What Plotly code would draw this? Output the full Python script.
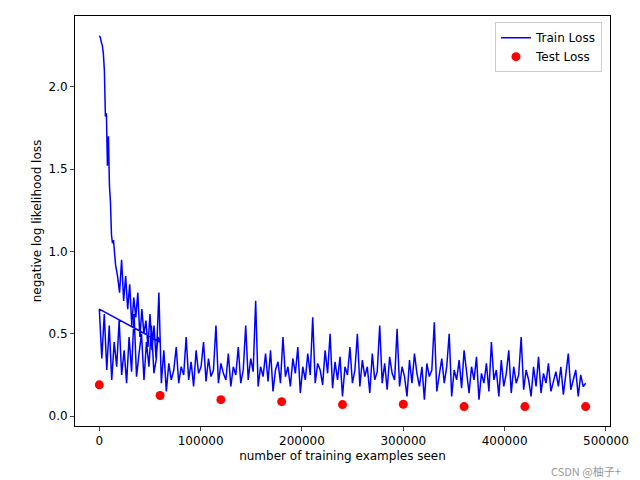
import plotly.graph_objects as go

# first pass through the data (loss drops fast)
first_x = [0, 1000, 2000, 3000, 4000, 5000, 6000, 7000, 8000, 9000, 10000, 11000, 12000, 13000,
           14000, 15000, 16000, 18000, 20000, 22000, 24000, 26000, 28000, 30000, 32000, 34000,
           36000, 38000, 40000, 42000, 44000, 46000, 48000, 50000, 52000, 54000, 56000, 58000, 60000]
first_y = [2.31, 2.30, 2.27, 2.25, 2.20, 2.10, 1.82, 1.84, 1.52, 1.70, 1.40, 1.30, 1.10, 1.05,
           1.07, 0.98, 0.92, 0.85, 0.75, 0.95, 0.70, 0.85, 0.65, 0.80, 0.55, 0.72, 0.60, 0.75,
           0.48, 0.65, 0.50, 0.58, 0.42, 0.62, 0.40, 0.55, 0.35, 0.48, 0.45]

# later logging, counter restarted at 0
later_y = [0.65, 0.35, 0.62, 0.28, 0.55, 0.22, 0.45, 0.30, 0.58, 0.25, 0.40, 0.20, 0.48, 0.27,
           0.62, 0.24, 0.38, 0.50, 0.22, 0.45, 0.30, 0.55, 0.26, 0.35, 0.75, 0.20, 0.40, 0.15,
           0.32, 0.22, 0.28, 0.42, 0.20, 0.30, 0.25, 0.48, 0.22, 0.33, 0.18, 0.40, 0.26, 0.30,
           0.45, 0.21, 0.35, 0.24, 0.28, 0.55, 0.20, 0.32, 0.26, 0.22, 0.38, 0.18, 0.30, 0.25,
           0.42, 0.20, 0.28, 0.55, 0.22, 0.35, 0.27, 0.70, 0.18, 0.30, 0.24, 0.38, 0.21, 0.40,
           0.15, 0.28, 0.33, 0.20, 0.48, 0.24, 0.30, 0.18, 0.35, 0.26, 0.42, 0.14, 0.30, 0.22,
           0.38, 0.25, 0.60, 0.20, 0.32, 0.28, 0.19, 0.40, 0.26, 0.50, 0.17, 0.33, 0.22, 0.36,
           0.12, 0.30, 0.25, 0.42, 0.20, 0.28, 0.50, 0.18, 0.34, 0.24, 0.30, 0.14, 0.38, 0.22,
           0.27, 0.55, 0.20, 0.32, 0.16, 0.36, 0.26, 0.22, 0.53, 0.18, 0.30, 0.24, 0.12, 0.34,
           0.20, 0.38, 0.26, 0.18, 0.30, 0.10, 0.32, 0.24, 0.28, 0.57, 0.15, 0.26, 0.35, 0.20,
           0.30, 0.50, 0.12, 0.28, 0.22, 0.34, 0.17, 0.40, 0.25, 0.14, 0.30, 0.22, 0.36, 0.10,
           0.26, 0.20, 0.32, 0.15, 0.45, 0.22, 0.28, 0.12, 0.34, 0.18, 0.26, 0.40, 0.14, 0.30,
           0.20, 0.25, 0.48, 0.16, 0.28, 0.22, 0.12, 0.30, 0.18, 0.36, 0.14, 0.26, 0.20, 0.32,
           0.15, 0.22, 0.27, 0.18, 0.30, 0.13, 0.24, 0.38, 0.16, 0.22, 0.28, 0.12, 0.25, 0.18,
           0.20]
later_x = [i * 480000 / (len(later_y) - 1) for i in range(len(later_y))]

test_x = [0, 60000, 120000, 180000, 240000, 300000, 360000, 420000, 480000]
test_y = [0.19, 0.125, 0.10, 0.088, 0.07, 0.072, 0.058, 0.058, 0.058]

fig = go.Figure()
fig.add_trace(go.Scatter(
    x=first_x + later_x, y=first_y + later_y,
    mode="lines", name="Train Loss",
    line=dict(color="blue", width=1.5),
))
fig.add_trace(go.Scatter(
    x=test_x, y=test_y, mode="markers", name="Test Loss",
    marker=dict(color="red", size=9),
))

axis_style = dict(
    showline=True, linecolor="black", linewidth=1, mirror=True,
    ticks="outside", ticklen=4, showgrid=False, zeroline=False,
    tickfont=dict(size=12, color="black"), automargin=False,
)
fig.update_xaxes(
    title=dict(text="number of training examples seen", standoff=4, font=dict(size=12)),
    range=[-24000, 504000],
    tickvals=[0, 100000, 200000, 300000, 400000, 500000],
    ticktext=["0", "100000", "200000", "300000", "400000", "500000"],
    **axis_style,
)
fig.update_yaxes(
    title=dict(text="negative log likelihood loss", standoff=4, font=dict(size=12)),
    range=[-0.06, 2.43],
    tickvals=[0, 0.5, 1, 1.5, 2], ticktext=["0.0", "0.5", "1.0", "1.5", "2.0"],
    **axis_style,
)
fig.update_layout(
    width=640, height=480,
    template="none",
    font=dict(family="DejaVu Sans", size=12, color="black"),
    margin=dict(l=67, r=38, t=8, b=62),
    plot_bgcolor="white", paper_bgcolor="white",
    showlegend=True,
    legend=dict(x=0.985, y=0.985, xanchor="right", yanchor="top",
                bordercolor="#cccccc", borderwidth=1, bgcolor="white",
                font=dict(size=12)),
    annotations=[dict(text="CSDN @柚子+", x=1.025, y=-0.085, xref="paper", yref="paper",
                      xanchor="right", yanchor="top", showarrow=False,
                      font=dict(size=11, color="#999999", family="Noto Sans CJK SC"))],
)

fig.write_html("out.html")
